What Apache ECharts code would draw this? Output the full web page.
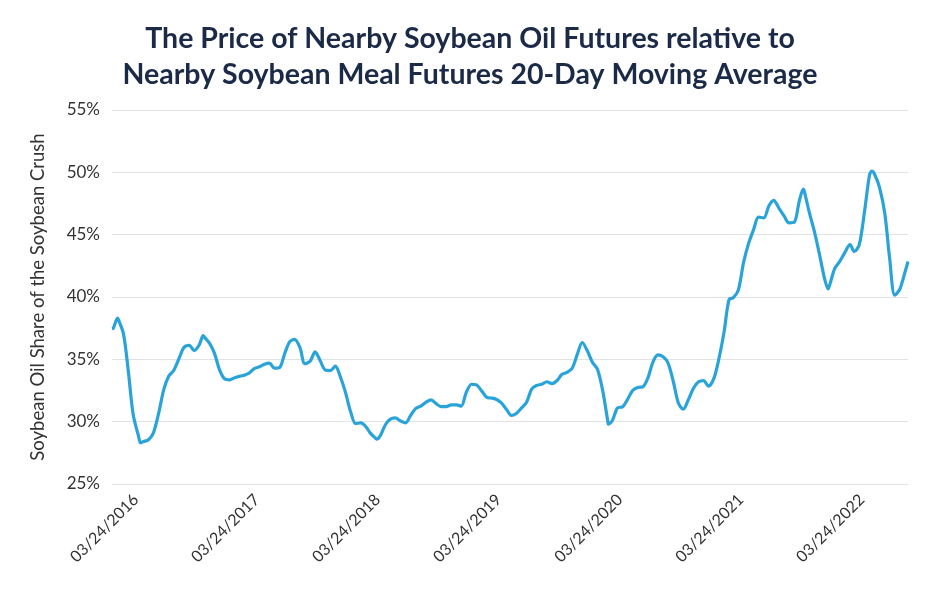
<!DOCTYPE html>
<html>
<head>
<meta charset="utf-8">
<script src="https://cdn.jsdelivr.net/npm/echarts@6/dist/echarts.min.js"></script>
<style>
  html, body { margin: 0; padding: 0; background: #fff; }
  #chart { width: 940px; height: 600px; }
</style>
</head>
<body>
<div id="chart"></div>
<script>
// 20日均线：豆油占压榨价值的份额（%）
const dates = [
  '2016-01-12', '2016-01-16', '2016-01-29', '2016-02-01', '2016-02-16', '2016-03-01', '2016-03-16',
  '2016-04-01', '2016-04-07', '2016-04-16', '2016-05-01', '2016-05-16', '2016-06-01', '2016-06-16',
  '2016-07-01', '2016-07-16', '2016-08-01', '2016-08-16', '2016-09-01', '2016-09-16', '2016-10-01',
  '2016-10-13', '2016-10-16', '2016-11-01', '2016-11-16', '2016-12-01', '2016-12-16',
  '2017-01-01', '2017-01-16', '2017-02-01', '2017-02-16', '2017-03-01', '2017-03-16', '2017-04-01',
  '2017-04-16', '2017-05-01', '2017-05-16', '2017-06-01', '2017-06-16', '2017-07-01', '2017-07-16',
  '2017-08-01', '2017-08-16', '2017-09-01', '2017-09-16', '2017-10-01', '2017-10-16', '2017-11-01',
  '2017-11-16', '2017-12-01', '2017-12-16',
  '2018-01-01', '2018-01-16', '2018-02-01', '2018-02-16', '2018-03-01', '2018-03-16', '2018-03-21',
  '2018-04-01', '2018-04-16', '2018-05-01', '2018-05-16', '2018-06-01', '2018-06-16', '2018-07-01',
  '2018-07-16', '2018-08-01', '2018-08-16', '2018-09-01', '2018-09-16', '2018-10-01', '2018-10-16',
  '2018-11-01', '2018-11-16', '2018-12-01', '2018-12-16',
  '2019-01-01', '2019-01-16', '2019-02-01', '2019-02-16', '2019-03-01', '2019-03-16', '2019-04-01',
  '2019-04-16', '2019-05-01', '2019-05-16', '2019-06-01', '2019-06-16', '2019-07-01', '2019-07-16',
  '2019-08-01', '2019-08-16', '2019-09-01', '2019-09-16', '2019-10-01', '2019-10-16', '2019-11-01',
  '2019-11-16', '2019-12-01', '2019-12-16',
  '2020-01-01', '2020-01-16', '2020-02-01', '2020-02-16', '2020-02-18', '2020-03-01', '2020-03-16',
  '2020-04-01', '2020-04-16', '2020-05-01', '2020-05-16', '2020-06-01', '2020-06-16', '2020-07-01',
  '2020-07-16', '2020-08-01', '2020-08-16', '2020-09-01', '2020-09-16', '2020-10-01', '2020-10-16',
  '2020-11-01', '2020-11-16', '2020-12-01', '2020-12-16',
  '2021-01-01', '2021-01-16', '2021-02-01', '2021-02-16', '2021-03-01', '2021-03-16', '2021-04-01',
  '2021-04-16', '2021-05-01', '2021-05-16', '2021-06-01', '2021-06-16', '2021-07-01', '2021-07-16',
  '2021-08-01', '2021-08-16', '2021-09-01', '2021-09-16', '2021-09-28', '2021-10-01', '2021-10-16',
  '2021-11-01', '2021-11-16', '2021-12-01', '2021-12-12', '2021-12-16',
  '2022-01-01', '2022-01-16', '2022-02-01', '2022-02-16', '2022-03-01', '2022-03-16', '2022-04-01',
  '2022-04-16', '2022-04-23', '2022-05-01', '2022-05-16', '2022-06-01', '2022-06-16', '2022-07-01',
  '2022-07-16', '2022-08-01', '2022-08-10'
];

const oilShare = [
  37.45, 37.5, 38.3, 38.15, 37.0, 34.1, 30.55,
  28.85, 28.3, 28.4, 28.55, 29.1, 30.7, 32.55,
  33.65, 34.1, 35.05, 35.95, 36.12, 35.7, 36.15,
  36.9, 36.8, 36.3, 35.5, 34.2, 33.45,
  33.35, 33.53, 33.65, 33.75, 33.9, 34.25, 34.4,
  34.6, 34.7, 34.3, 34.35, 35.45, 36.4, 36.6,
  35.95, 34.65, 34.85, 35.6, 34.9, 34.15, 34.1,
  34.45, 33.6, 32.4,
  30.8, 29.85, 29.9, 29.6, 29.1, 28.7, 28.6,
  28.9, 29.75, 30.2, 30.3, 30.05, 29.9, 30.5,
  31.05, 31.25, 31.55, 31.75, 31.45, 31.2, 31.2,
  31.35, 31.35, 31.25, 32.35,
  33.0, 32.95, 32.45, 31.95, 31.9, 31.8, 31.5,
  31.0, 30.5, 30.65, 31.1, 31.55, 32.6, 32.9,
  33.0, 33.2, 33.05, 33.3, 33.8, 33.95, 34.3,
  35.4, 36.35, 35.7,
  34.75, 34.2, 32.45, 30.05, 29.8, 30.1, 31.1,
  31.2, 31.8, 32.5, 32.75, 32.8, 33.5, 34.75,
  35.35, 35.2, 34.7, 33.2, 31.5, 31.0, 31.75,
  32.7, 33.2, 33.3, 32.85,
  33.45, 35.0, 37.2, 39.8, 39.95, 40.55, 42.8,
  44.3, 45.4, 46.4, 46.35, 47.3, 47.75, 47.15,
  46.5, 45.95, 46.0, 47.7, 48.65, 48.5, 46.8,
  45.2, 43.4, 41.5, 40.65, 40.9,
  42.3, 42.85, 43.6, 44.2, 43.65, 44.2, 46.9,
  49.8, 50.1, 49.85, 48.8, 46.7, 43.0, 40.15,
  40.6, 42.0, 42.85
];

// x轴标签：每年 03/24
const tickDates = ['2016-03-24', '2017-03-24', '2018-03-24', '2019-03-24', '2020-03-24', '2021-03-24', '2022-03-24'];
const tickLabels = ['03/24/2016', '03/24/2017', '03/24/2018', '03/24/2019', '03/24/2020', '03/24/2021', '03/24/2022'];

// 'YYYY-MM-DD' -> 时间戳
const toTime = (s) => {
  const p = s.split('-').map(Number);
  return new Date(p[0], p[1] - 1, p[2]).getTime();
};

const tickValues = tickDates.map(toTime);

const chart = echarts.init(document.getElementById('chart'));

const option = {
  animation: false,
  title: {
    text: 'The Price of Nearby Soybean Oil Futures relative to\nNearby Soybean Meal Futures 20-Day Moving Average',
    left: 'center',
    top: 16,
    textStyle: {
      fontFamily: 'Lato',
      fontSize: 28.5,
      fontWeight: 'bold',
      color: '#1b2a47',
      lineHeight: 36
    }
  },
  grid: {
    left: 112,
    right: 32,
    top: 110,
    bottom: 116
  },
  xAxis: {
    type: 'value',
    min: toTime('2016-01-12'),
    max: toTime('2022-08-10'),
    axisLine: { show: false },
    axisTick: { show: false },
    splitLine: { show: false },
    axisLabel: {
      customValues: tickValues,
      rotate: 45,
      margin: 13,
      fontFamily: 'Lato',
      fontSize: 16,
      color: '#333',
      formatter: function (value) {
        const i = tickValues.indexOf(value);
        return i >= 0 ? tickLabels[i] : '';
      }
    }
  },
  yAxis: {
    type: 'value',
    min: 25,
    max: 55,
    interval: 5,
    name: 'Soybean Oil Share of the Soybean Crush',
    nameLocation: 'middle',
    nameGap: 64,
    nameTextStyle: {
      fontFamily: 'Lato',
      fontSize: 18.5,
      color: '#333'
    },
    axisLine: { show: false },
    axisTick: { show: false },
    axisLabel: {
      margin: 12,
      fontFamily: 'Lato',
      fontSize: 17,
      color: '#333',
      formatter: '{value}%'
    },
    splitLine: {
      lineStyle: { color: '#e2e2e2', width: 1 }
    }
  },
  series: [{
    name: 'Soybean Oil Share',
    type: 'line',
    showSymbol: false,
    symbol: 'none',
    smooth: 0.3,
    lineStyle: { color: '#2aa3d9', width: 3.2 },
    data: dates.map((d, i) => [toTime(d), oilShare[i]])
  }]
};

chart.setOption(option);
</script>
</body>
</html>
